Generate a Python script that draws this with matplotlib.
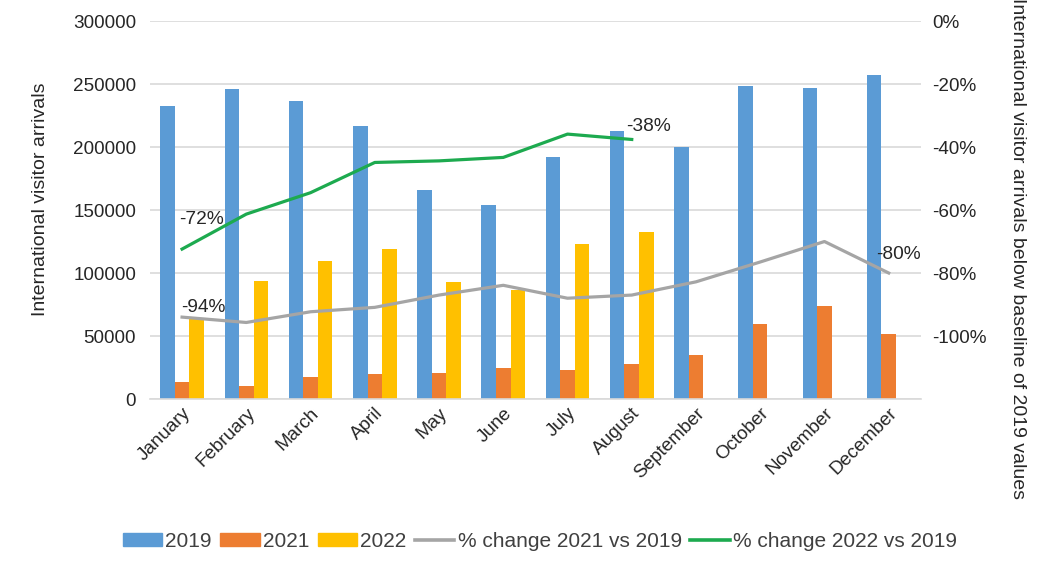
import numpy as np
import matplotlib
matplotlib.use("Agg")
import matplotlib.pyplot as plt
from matplotlib.patches import Patch
from matplotlib.lines import Line2D

plt.rcParams['font.family'] = ['Liberation Sans', 'DejaVu Sans']

months = ["January", "February", "March", "April", "May", "June", "July",
          "August", "September", "October", "November", "December"]
arr_2019 = [232800, 246000, 236500, 216700, 165900, 154200, 192000, 213000,
            200000, 248400, 246800, 256900]
arr_2021 = [13700, 10600, 17500, 20000, 20600, 24300, 23000, 28000,
            34700, 59300, 73500, 51300]
arr_2022 = [63700, 93900, 109200, 119300, 92600, 86800, 122800, 132800]
chg_2021 = [-94, -95.7, -92.3, -90.9, -87, -83.9, -88, -87, -82.8, -76.5, -70, -80]
chg_2022 = [-72.4, -61.3, -54.5, -44.9, -44.4, -43.3, -35.9, -37.6]

left_ticks = [0, 50000, 100000, 150000, 200000, 250000, 300000]
right_ticks = [0, -20, -40, -60, -80, -100]

c_blue = "#5B9BD5"
c_orange = "#ED7D31"
c_yellow = "#FFC000"
c_grey = "#A5A5A5"
c_green = "#1DAA4F"
tc = "#262626"
fs = 13.6
fs_lab = 14.0

fig = plt.figure(figsize=(10.56, 5.68), dpi=100)
ax = fig.add_axes([0.142, 0.2975, 0.730, 0.6655])
x = np.arange(len(months))
w = 0.226
ax.bar(x - w, arr_2019, w, color=c_blue, zorder=2)
ax.bar(x, arr_2021, w, color=c_orange, zorder=2)
ax.bar(np.arange(len(arr_2022)) + w, arr_2022, w, color=c_yellow, zorder=2)
ax.set_xlim(-0.5, len(months) - 0.5)
ax.set_ylim(0, 300000)
ax.set_yticks(left_ticks)
ax.set_yticklabels([str(v) for v in left_ticks], fontsize=fs, color=tc)
ax.yaxis.grid(True, color="#D9D9D9", linewidth=1.2, zorder=0)
ax.set_axisbelow(True)
for s in ["top", "right", "left"]:
    ax.spines[s].set_visible(False)
ax.spines["bottom"].set_color("#D9D9D9")
ax.spines["bottom"].set_linewidth(1.2)
ax.tick_params(axis='y', length=0, pad=10)
ax.tick_params(axis='x', length=0, pad=4)
ax.set_xticks(x)
ax.set_xticklabels(months, rotation=45, ha='right', rotation_mode='anchor',
                   fontsize=fs, color=tc)
ax.set_ylabel("International visitor arrivals", fontsize=fs_lab, color=tc, va='center')
ax.yaxis.set_label_coords(-0.142, 0.529)

ax2 = ax.twinx()
ax2.set_ylim(-120, 0)
ax2.plot(x, chg_2021, color=c_grey, linewidth=2.3, zorder=3)
ax2.plot(np.arange(len(chg_2022)), chg_2022, color=c_green, linewidth=2.3, zorder=3)
ax2.set_yticks(right_ticks)
ax2.set_yticklabels([f"{v}%" for v in right_ticks], fontsize=fs, color=tc)
ax2.tick_params(axis='y', length=0, pad=8)
for s in ["top", "right", "left", "bottom"]:
    ax2.spines[s].set_visible(False)
ax2.set_ylabel("International visitor arrivals below baseline of 2019 values",
               fontsize=fs_lab, color=tc, rotation=-90, va='center')
ax2.yaxis.set_label_coords(1.126, 0.397)

lfs = 13.8
ax2.text(-0.05, chg_2022[0] + 8.1, f"{round(chg_2022[0])}%", fontsize=lfs, color=tc)
ax2.text(-0.02, chg_2021[0] + 1.5, f"{round(chg_2021[0])}%", fontsize=lfs, color=tc)
ax2.text(len(chg_2022) - 1 - 0.08, chg_2022[-1] + 2.6, f"{round(chg_2022[-1])}%",
         fontsize=lfs, color=tc)
ax2.text(len(months) - 1 - 0.19, chg_2021[-1] + 4.4, f"{round(chg_2021[-1])}%",
         fontsize=lfs, color=tc)

handles = [Patch(color=c_blue), Patch(color=c_orange), Patch(color=c_yellow),
           Line2D([], [], color=c_grey, linewidth=2.6),
           Line2D([], [], color=c_green, linewidth=2.6)]
labels = ["2019", "2021", "2022", "% change 2021 vs 2019", "% change 2022 vs 2019"]
fig.legend(handles, labels, loc='center', bbox_to_anchor=(0.511, 0.047), ncol=5,
           frameon=False, fontsize=15, handlelength=1.9, handleheight=0.55,
           handletextpad=0.15, columnspacing=0.4, labelcolor="#404040")

fig.savefig("out.png", dpi=100)
